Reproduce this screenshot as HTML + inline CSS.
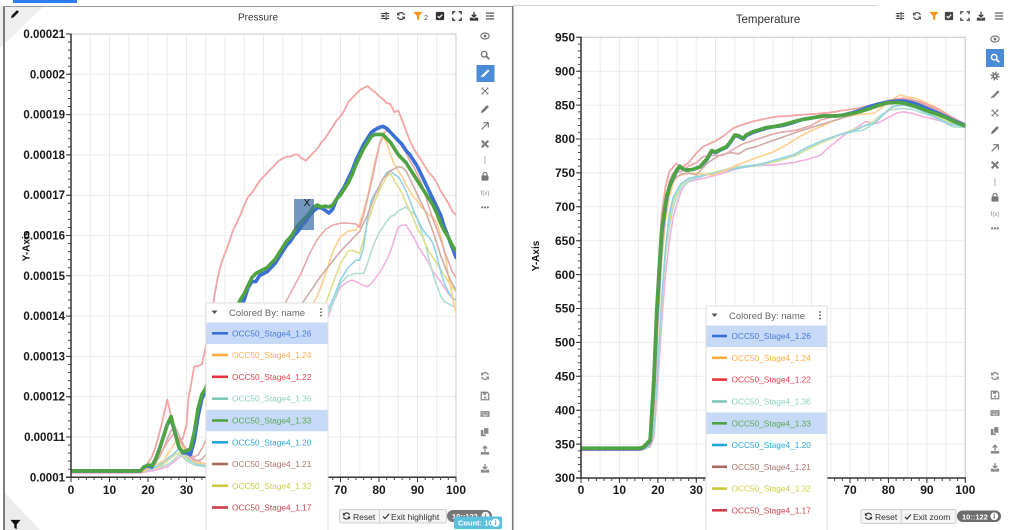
<!DOCTYPE html>
<html><head><meta charset="utf-8"><style>
html,body{margin:0;padding:0;background:#fff;}
svg{display:block;}
</style></head><body>
<svg width="1024" height="530" viewBox="0 0 1024 530" xmlns="http://www.w3.org/2000/svg" font-family="'Liberation Sans', Arial, sans-serif">
<defs>
<symbol id="i-sliders" viewBox="0 0 12 12"><g stroke="currentColor" stroke-width="1.2"><line x1="1" y1="3" x2="11" y2="3"/><line x1="1" y1="6" x2="11" y2="6"/><line x1="1" y1="9" x2="11" y2="9"/></g><g fill="currentColor"><rect x="6.5" y="1.5" width="2" height="3"/><rect x="2.5" y="4.5" width="2" height="3"/><rect x="6.5" y="7.5" width="2" height="3"/></g></symbol>
<symbol id="i-refresh" viewBox="0 0 12 12"><path d="M10 5A4 4 0 0 0 2.6 4M2 7A4 4 0 0 0 9.4 8" fill="none" stroke="currentColor" stroke-width="1.5"/><path d="M1.2 1.5v3.8h3.8zM10.8 10.5V6.7H7z" fill="currentColor"/></symbol>
<symbol id="i-funnel" viewBox="0 0 12 12"><path d="M0.5 1h11l-4.2 5v5.2l-2.6-1.6V6z" fill="currentColor"/></symbol>
<symbol id="i-check" viewBox="0 0 12 12"><rect x="1" y="1" width="10" height="10" rx="1.5" fill="currentColor"/><path d="M3.3 6.2l1.8 1.8 3.6-3.6" stroke="#fff" stroke-width="1.4" fill="none"/></symbol>
<symbol id="i-full" viewBox="0 0 12 12"><path d="M1 4V1h3M8 1h3v3M11 8v3H8M4 11H1V8" fill="none" stroke="currentColor" stroke-width="1.6"/></symbol>
<symbol id="i-dl" viewBox="0 0 12 12"><path d="M6 1v6M3.3 4.5L6 7.2l2.7-2.7" stroke="currentColor" stroke-width="1.6" fill="none"/><path d="M1 8h3l2 1.5L8 8h3v3.5H1z" fill="currentColor"/></symbol>
<symbol id="i-menu" viewBox="0 0 12 12"><g stroke="currentColor" stroke-width="1.4"><line x1="1" y1="2.5" x2="11" y2="2.5"/><line x1="1" y1="6" x2="11" y2="6"/><line x1="1" y1="9.5" x2="11" y2="9.5"/></g></symbol>
<symbol id="i-eye" viewBox="0 0 12 12"><ellipse cx="6" cy="6" rx="5" ry="3.6" fill="none" stroke="currentColor" stroke-width="1.4"/><circle cx="6" cy="6" r="1.7" fill="currentColor"/></symbol>
<symbol id="i-search" viewBox="0 0 12 12"><circle cx="5" cy="5" r="3.3" fill="none" stroke="currentColor" stroke-width="1.7"/><path d="M7.4 7.4L11 11" stroke="currentColor" stroke-width="2.2"/></symbol>
<symbol id="i-pen" viewBox="0 0 12 12"><path d="M3 9L9.5 2.5l1 1L4 10z" fill="none" stroke="currentColor" stroke-width="1.3"/><path d="M3 9l-1.8 1.8" stroke="currentColor" stroke-width="1.2"/></symbol>
<symbol id="i-move" viewBox="0 0 12 12"><path d="M3 3l6 6M9 3l-6 6" stroke="currentColor" stroke-width="1.4"/><path d="M1 1h3.5L1 4.5zM11 1v3.5L7.5 1zM1 11V7.5L4.5 11zM11 11H7.5L11 7.5z" fill="currentColor"/></symbol>
<symbol id="i-pencil" viewBox="0 0 12 12"><path d="M1.2 10.8l0.8-3 6.5-6.5 2.2 2.2L4.2 10z" fill="currentColor"/></symbol>
<symbol id="i-arrow" viewBox="0 0 12 12"><path d="M2 10L9.5 2.5M4 2h6v6" fill="none" stroke="currentColor" stroke-width="1.4"/></symbol>
<symbol id="i-tools" viewBox="0 0 12 12"><path d="M2 2l8 8M10 2l-8 8" stroke="currentColor" stroke-width="2.4"/></symbol>
<symbol id="i-lock" viewBox="0 0 12 12"><rect x="1.8" y="5.3" width="8.4" height="6.2" rx="1" fill="currentColor"/><path d="M3.7 5.5V4a2.3 2.3 0 0 1 4.6 0v1.5" fill="none" stroke="currentColor" stroke-width="1.4"/></symbol>
<symbol id="i-save" viewBox="0 0 12 12"><path d="M1.5 1.5h7l2 2v7h-9z" fill="none" stroke="currentColor" stroke-width="1.5"/><rect x="3.5" y="1.5" width="4" height="3" fill="currentColor"/><circle cx="6" cy="7.8" r="1.3" fill="currentColor"/></symbol>
<symbol id="i-kbd" viewBox="0 0 12 12"><rect x="0.5" y="2.5" width="11" height="7" rx="1" fill="currentColor"/><g stroke="#fff" stroke-width="0.8" stroke-dasharray="1 0.8"><line x1="1.6" y1="4.5" x2="10.4" y2="4.5"/><line x1="1.6" y1="6.3" x2="10.4" y2="6.3"/></g><line x1="3" y1="8.2" x2="9" y2="8.2" stroke="#fff" stroke-width="0.8"/></symbol>
<symbol id="i-copy" viewBox="0 0 12 12"><rect x="1" y="3.5" width="6" height="7.5" fill="currentColor"/><rect x="4.5" y="1" width="6" height="7.5" fill="currentColor" stroke="#fff" stroke-width="0.8"/></symbol>
<symbol id="i-up" viewBox="0 0 12 12"><path d="M6 8V1.5M3.3 4.2L6 1.5l2.7 2.7" stroke="currentColor" stroke-width="1.6" fill="none"/><path d="M1 8.5h10v3H1z" fill="currentColor"/></symbol>
<symbol id="i-gear" viewBox="0 0 12 12"><circle cx="6" cy="6" r="4.4" fill="none" stroke="currentColor" stroke-width="2" stroke-dasharray="1.7 1.75"/><circle cx="6" cy="6" r="3.4" fill="currentColor"/><circle cx="6" cy="6" r="1.2" fill="#fff"/></symbol>
<symbol id="i-info" viewBox="0 0 12 12"><circle cx="6" cy="6" r="5.5" fill="#fff"/><rect x="5.1" y="5" width="1.8" height="4.2" fill="currentColor"/><circle cx="6" cy="3.3" r="1" fill="currentColor"/></symbol>
<clipPath id="clipL"><rect x="71" y="34" width="385" height="443"/></clipPath>
<clipPath id="clipR"><rect x="581" y="37.3" width="384.3" height="440.7"/></clipPath>
</defs>

<rect x="0" y="0" width="1024" height="530" fill="#fff"/>

<!-- panel chrome -->
<polygon points="0,6 44,6 0,48" fill="#efefef"/>
<polygon points="4,492 4,530 40,530" fill="#ececec"/>
<rect x="13" y="0" width="64" height="3" fill="#2f7ef0"/>
<line x1="4" y1="6" x2="4" y2="530" stroke="#555" stroke-width="1.5"/>
<line x1="4" y1="6.5" x2="512" y2="6.5" stroke="#999" stroke-width="1"/>
<line x1="512.7" y1="6" x2="512.7" y2="530" stroke="#777" stroke-width="1.6"/>
<line x1="513" y1="5.5" x2="877" y2="5.5" stroke="#d4d4d4" stroke-width="1"/>
<use href="#i-pencil" x="10" y="9" width="10" height="10" color="#111"/>
<use href="#i-funnel" x="10" y="519" width="11" height="11" color="#111"/>

<!-- ================= LEFT CHART ================= -->
<text x="258" y="20.5" font-size="10" fill="#333" text-anchor="middle">Pressure</text>
<use href="#i-sliders" x="380" y="11" width="10" height="10" color="#444"/>
<use href="#i-refresh" x="396" y="11" width="10" height="10" color="#444"/>
<use href="#i-funnel" x="413" y="11" width="10" height="10" color="#f7941d"/>
<text x="424" y="20" font-size="7.5" fill="#555">2</text>
<use href="#i-check" x="435" y="11" width="10" height="10" color="#333"/>
<use href="#i-full" x="452" y="11" width="10" height="10" color="#333"/>
<use href="#i-dl" x="469" y="11" width="10" height="10" color="#333"/>
<use href="#i-menu" x="485" y="11" width="10" height="10" color="#444"/>

<!-- grid -->
<line x1="70.5" y1="255.5" x2="456" y2="255.5" stroke="#ebebeb" stroke-width="443" stroke-dasharray="1 18.25"/>
<line x1="263.5" y1="33.5" x2="263.5" y2="478" stroke="#ebebeb" stroke-width="385" stroke-dasharray="1 39.3"/>
<rect x="71" y="34" width="385" height="443" fill="none" stroke="#c8c8c8" stroke-width="1"/>

<!-- curves left -->
<g clip-path="url(#clipL)">
<g transform="matrix(3.85 0 0 -40.3 71 477)" fill="none" stroke-linejoin="round" stroke-linecap="round">
<polyline vector-effect="non-scaling-stroke" stroke="#f2b0df" stroke-width="1.6" points="0,0.1 18,0.1 19,0.12 21,0.15 23,0.2 25,0.25 27,0.4 29,0.55 30,0.67 31,0.6 32,0.45 34,0.35 35,0.3 40,0.6 45,1.0 50,1.5 55,2.0 60,2.5 65,3.5 68,4.3 70,4.72 72,4.85 73,4.89 75,4.8 77,4.72 78,4.8 80,5.05 82,5.38 83,5.6 84,5.9 85,6.2 86,6.25 87,6.25 88,6.1 89,5.95 90,5.75 91,5.6 92,5.45 93,5.3 94,5.1 95,4.97 96,4.85 97,4.7 98,4.55 99,4.45 100,4.39"/>
<polyline vector-effect="non-scaling-stroke" stroke="#b2ddd0" stroke-width="1.6" points="0,0.12 18,0.12 19,0.15 21,0.2 23,0.25 25,0.3 27,0.45 28,0.55 29,0.5 30,0.4 32,0.3 35,0.25 40,0.6 45,1.1 50,1.7 55,2.2 60,2.8 65,3.7 68,4.3 70,4.8 72,5.0 74,5.05 76,5.05 77,5.3 78,5.6 79,5.85 80,6.05 81,6.2 82,6.35 83,6.46 84,6.5 85,6.6 86,6.65 87,6.7 88,6.6 89,6.55 90,6.4 91,6.1 92,5.8 93,5.4 94,5.05 95,4.75 96,4.5 97,4.35 98,4.3 99,4.25 100,4.22"/>
<polyline vector-effect="non-scaling-stroke" stroke="#dede8e" stroke-width="1.6" points="0,0.12 18,0.12 19,0.15 21,0.2 23,0.25 25,0.4 27,0.55 28,0.6 29,0.55 30,0.45 32,0.35 35,0.3 40,0.7 45,1.3 50,1.9 55,2.4 60,3.0 65,4.0 68,4.8 70,5.3 72,5.6 73,5.63 75,5.55 76,5.9 77,6.3 78,6.6 80,7.1 82,7.45 83,7.53 84,7.35 85,7.2 86,7.04 87,6.8 88,6.6 89,6.4 90,6.15 91,6.0 92,5.8 93,5.6 94,5.45 95,5.3 96,5.15 97,5.0 98,4.85 99,4.7 100,4.6"/>
<polyline vector-effect="non-scaling-stroke" stroke="#92d2e8" stroke-width="1.6" points="0,0.12 18,0.12 19,0.15 21,0.2 23,0.3 25,0.45 27,0.6 28,0.7 29,0.65 30,0.5 31,0.4 33,0.3 35,0.28 40,0.6 45,1.2 50,1.8 55,2.3 60,2.8 65,3.8 68,4.4 70,4.89 72,5.2 74,5.38 75,5.38 76,5.7 77,6.4 78,6.87 79,7.05 80,7.2 81,7.4 82,7.55 83,7.6 84,7.5 85,7.45 86,7.3 87,7.1 88,6.87 89,6.6 90,6.4 91,6.2 92,6.05 93,5.95 94,5.8 95,5.5 96,5.1 97,4.8 98,4.6 99,4.45 100,4.39"/>
<polyline vector-effect="non-scaling-stroke" stroke="#ffcf8c" stroke-width="1.6" points="0,0.12 18,0.12 19,0.15 20,0.2 22,0.3 24,0.4 25,0.55 26,0.7 27,0.85 28,0.92 29,0.75 30,0.55 31,0.45 32,0.38 33,0.35 35,0.35 40,0.8 45,1.4 50,2.0 55,2.9 60,3.8 64,4.5 66,5.0 68,5.6 70,5.96 72,6.1 74,6.13 75,6.3 76,6.6 77,6.95 78,7.4 79,7.85 80,8.2 81,8.44 82,8.3 83,8.0 84,7.75 85,7.6 86,7.45 87,7.25 88,7.1 89,6.95 90,6.85 91,6.7 92,6.6 93,6.5 94,6.45 95,6.3 96,6.0 97,5.6 98,5.0 99,4.5 100,4.06"/>
<polyline vector-effect="non-scaling-stroke" stroke="#cfaba4" stroke-width="1.6" points="0,0.12 18,0.12 19,0.2 21,0.25 22,0.35 23,0.5 24,0.7 25,0.95 26,1.15 27,1.25 28,1.05 29,0.85 30,0.65 31,0.5 32,0.42 33,0.4 34,0.45 35,0.55 40,1.2 45,2.0 50,2.8 55,3.5 60,4.3 65,5.0 70,5.6 73,5.9 75,6.1 77,6.5 79,7.0 81,7.4 83,7.6 85,7.7 86,7.68 87,7.6 88,7.4 89,7.2 90,7.0 91,6.8 92,6.6 93,6.35 94,6.1 95,5.8 96,5.5 97,5.25 98,5.0 99,4.8 100,4.64"/>
<polyline vector-effect="non-scaling-stroke" stroke="#e6a8aa" stroke-width="1.6" points="0,0.12 18,0.12 19,0.2 20,0.25 21,0.3 22,0.4 23,0.55 24,0.7 25,0.85 26,1.0 27,1.1 28,0.95 29,0.8 30,0.7 31,0.55 32,0.5 33,0.55 34,0.7 35,0.9 40,1.9 45,2.8 50,3.6 55,4.2 57,4.56 60,5.1 62,5.55 64,5.9 66,6.13 68,6.25 70,6.3 72,6.3 74,6.28 75,6.2 76,6.5 77,6.9 78,7.3 79,7.75 80,8.2 81,8.5 82,8.6 83,8.55 84,8.45 85,8.35 86,8.2 87,8.05 88,7.85 89,7.7 90,7.5 91,7.3 92,7.0 93,6.7 94,6.4 95,6.15 96,5.9 97,5.6 98,5.35 99,5.1 100,4.95"/>
<polyline vector-effect="non-scaling-stroke" stroke="#f3a4a4" stroke-width="1.8" points="0,0.12 18,0.12 19,0.2 20,0.35 21,0.5 22,0.75 23,1.1 24,1.5 25,1.92 26,1.5 27,1.05 28,0.85 29,0.95 30,1.3 30.5,1.95 31,2.2 32,2.74 33,2.75 34,2.8 35,3.23 36,3.8 37,4.35 38,4.9 39,5.3 40,5.55 41,5.8 42,6.1 43,6.3 44,6.5 45,6.75 46,6.95 47,7.05 48,7.2 49,7.35 50,7.45 51,7.55 52,7.65 53,7.75 54,7.85 55,7.9 56,7.95 57,7.95 58,8.0 59,8.0 60,7.9 61,7.85 62,7.95 63,8.05 64,8.15 65,8.3 66,8.4 67,8.55 68,8.7 69,8.85 70,8.95 71,9.1 72,9.3 73,9.4 74,9.5 75,9.6 76,9.65 77,9.7 78,9.62 79,9.55 80,9.45 81,9.38 82,9.28 83,9.25 84,9.05 85,9.1 86,8.85 87,8.6 88,8.35 89,8.15 90,8.0 91,7.85 92,7.7 93,7.55 94,7.45 95,7.3 96,7.1 97,6.95 98,6.8 99,6.6 100,6.5"/>
<polyline vector-effect="non-scaling-stroke" stroke="#3a6fd8" stroke-width="3.6" points="0,0.15 18,0.15 19,0.25 20,0.28 21,0.25 22,0.45 23,0.7 24,1.0 25,1.3 26,1.45 27,1.1 28,0.75 29,0.6 30,0.6 31,0.55 32,0.9 33,1.5 34,1.95 35,2.15 36,2.4 37,2.7 38,3.0 39,3.3 40,3.55 41,3.75 42,3.95 43,4.05 44,4.2 45,4.4 46,4.7 47,4.85 48,4.85 49,5.0 50,5.05 51,5.1 52,5.2 53,5.3 54,5.45 55,5.6 56,5.75 57,5.85 58,6.0 59,6.1 60,6.25 61,6.35 62,6.5 63,6.6 64,6.68 65,6.68 66,6.62 67,6.55 68,6.65 69,6.9 70,7.05 71,7.2 72,7.4 73,7.6 74,7.85 75,8.05 76,8.25 77,8.4 78,8.55 79,8.62 80,8.67 81,8.7 82,8.65 83,8.55 84,8.45 85,8.35 86,8.25 87,8.1 88,8.0 89,7.85 90,7.7 91,7.5 92,7.3 93,7.1 94,6.9 95,6.7 96,6.5 97,6.2 98,5.95 99,5.7 100,5.45"/>
<polyline vector-effect="non-scaling-stroke" stroke="#4fa343" stroke-width="3.6" points="0,0.15 18,0.15 19,0.25 20,0.3 21,0.28 22,0.45 23,0.7 24,1.0 25,1.3 26,1.5 27,1.1 28,0.75 29,0.62 30,0.65 31,0.7 32,1.1 33,1.7 34,2.05 35,2.2 36,2.5 37,2.8 38,3.1 39,3.4 40,3.65 41,3.85 42,4.05 43,4.2 44,4.4 45,4.55 46,4.75 47,4.95 48,5.05 49,5.1 50,5.15 51,5.2 52,5.3 53,5.4 54,5.55 55,5.7 56,5.85 57,5.95 58,6.1 59,6.25 60,6.35 61,6.45 62,6.55 63,6.7 64,6.75 65,6.7 66,6.72 67,6.7 68,6.75 69,6.9 70,7.0 71,7.15 72,7.3 73,7.5 74,7.75 75,7.95 76,8.15 77,8.3 78,8.45 79,8.5 80,8.5 81,8.5 82,8.4 83,8.3 84,8.15 85,8.0 86,7.9 87,7.8 88,7.65 89,7.5 90,7.35 91,7.2 92,7.05 93,6.9 94,6.75 95,6.55 96,6.3 97,6.1 98,5.95 99,5.75 100,5.6"/>
</g>
</g>

<!-- box selection -->
<rect x="294" y="199" width="20" height="31" fill="#3f6fa8" fill-opacity="0.72"/>
<text x="307" y="206" font-size="10" fill="#111" text-anchor="middle">X</text>

<!-- axes left -->
<line x1="71" y1="33.5" x2="71" y2="478" stroke="#333" stroke-width="1.5"/>
<line x1="66" y1="477.3" x2="456.5" y2="477.3" stroke="#333" stroke-width="1.5"/>
<line x1="69.5" y1="33.5" x2="69.5" y2="478" stroke="#444" stroke-width="3" stroke-dasharray="1 7.06"/>
<line x1="68.5" y1="33.5" x2="68.5" y2="478" stroke="#333" stroke-width="5" stroke-dasharray="1 39.3"/>
<line x1="70.5" y1="478.5" x2="457" y2="478.5" stroke="#444" stroke-width="3" stroke-dasharray="1 6.7"/>
<line x1="70.5" y1="479.5" x2="457" y2="479.5" stroke="#333" stroke-width="5" stroke-dasharray="1 37.5"/>

<g font-size="11.5" font-weight="bold" fill="#1a1a1a" text-anchor="end">
<text x="65" y="38">0.00021</text>
<text x="65" y="78.3">0.0002</text>
<text x="65" y="118.6">0.00019</text>
<text x="65" y="158.9">0.00018</text>
<text x="65" y="199.2">0.00017</text>
<text x="65" y="239.5">0.00016</text>
<text x="65" y="279.8">0.00015</text>
<text x="65" y="320.1">0.00014</text>
<text x="65" y="360.4">0.00013</text>
<text x="65" y="400.7">0.00012</text>
<text x="65" y="441">0.00011</text>
<text x="65" y="481.3">0.0001</text>
</g>
<g font-size="12" font-weight="bold" fill="#1a1a1a" text-anchor="middle">
<text x="71" y="494">0</text><text x="109.5" y="494">10</text><text x="148" y="494">20</text><text x="186.5" y="494">30</text><text x="225" y="494">40</text><text x="263.5" y="494">50</text><text x="302" y="494">60</text><text x="340.5" y="494">70</text><text x="379" y="494">80</text><text x="417.5" y="494">90</text><text x="456" y="494">100</text>
</g>
<text transform="translate(29.5,246) rotate(-90)" font-size="10" font-weight="bold" fill="#111" text-anchor="middle">Y-Axis</text>

<!-- left vertical toolbar -->
<rect x="476.5" y="65" width="18" height="17" fill="#4a8ad6"/>
<use href="#i-eye" x="480" y="31" width="10" height="10" color="#777"/>
<use href="#i-search" x="480" y="50" width="10" height="10" color="#777"/>
<use href="#i-pen" x="480" y="68" width="10" height="10" color="#fff"/>
<use href="#i-move" x="481" y="87" width="8" height="8" color="#777"/>
<use href="#i-pencil" x="480" y="104" width="10" height="10" color="#777"/>
<use href="#i-arrow" x="480" y="121" width="10" height="10" color="#777"/>
<use href="#i-tools" x="480" y="139" width="10" height="10" color="#777"/>
<line x1="485" y1="156" x2="485" y2="164" stroke="#999" stroke-width="0.8"/>
<use href="#i-lock" x="480" y="171" width="10" height="10" color="#777"/>
<text x="485" y="195" font-size="6" fill="#888" text-anchor="middle">f(x)</text>
<text x="485" y="210" font-size="8" fill="#777" text-anchor="middle">•••</text>
<use href="#i-refresh" x="480" y="371" width="10" height="10" color="#888"/>
<use href="#i-save" x="480" y="391" width="10" height="10" color="#888"/>
<use href="#i-kbd" x="480" y="409" width="10" height="10" color="#888"/>
<use href="#i-copy" x="480" y="427" width="10" height="10" color="#888"/>
<use href="#i-up" x="480" y="445" width="10" height="10" color="#888"/>
<use href="#i-dl" x="480" y="463" width="10" height="10" color="#888"/>

<!-- left legend -->
<rect x="206" y="303" width="122" height="230" fill="#fff" stroke="#dcdcdc" stroke-width="1"/>
<polygon points="211.5,310.5 217.5,310.5 214.5,314" fill="#555"/>
<text x="229" y="316" font-size="9.5" fill="#666">Colored By: name</text>
<circle cx="321" cy="309" r="0.9" fill="#555"/><circle cx="321" cy="312.3" r="0.9" fill="#555"/><circle cx="321" cy="315.6" r="0.9" fill="#555"/>
<rect x="206.5" y="322.5" width="121" height="21.5" fill="#c6daf8"/>
<rect x="206.5" y="409.8" width="121" height="21.5" fill="#c6daf8"/>
<g stroke-width="2.6">
<line x1="212" y1="333.3" x2="228" y2="333.3" stroke="#3a6fd8"/>
<line x1="212" y1="355" x2="228" y2="355" stroke="#ffaa3c"/>
<line x1="212" y1="376.8" x2="228" y2="376.8" stroke="#e8343c"/>
<line x1="212" y1="398.7" x2="228" y2="398.7" stroke="#7ec8b8"/>
<line x1="212" y1="420.5" x2="228" y2="420.5" stroke="#4fa343"/>
<line x1="212" y1="442.3" x2="228" y2="442.3" stroke="#1ea7d8"/>
<line x1="212" y1="464" x2="228" y2="464" stroke="#a86a5e"/>
<line x1="212" y1="485.8" x2="228" y2="485.8" stroke="#c9c93a"/>
<line x1="212" y1="507.5" x2="228" y2="507.5" stroke="#d03a48"/>
</g>
<g font-size="8.3">
<text x="232" y="336.3" fill="#4a78d8">OCC50_Stage4_1.26</text>
<text x="232" y="358" fill="#ffac45">OCC50_Stage4_1.24</text>
<text x="232" y="379.8" fill="#e8404c">OCC50_Stage4_1.22</text>
<text x="232" y="401.7" fill="#8ccfc0">OCC50_Stage4_1.36</text>
<text x="232" y="423.5" fill="#5aa852">OCC50_Stage4_1.33</text>
<text x="232" y="445.3" fill="#28a8d8">OCC50_Stage4_1.20</text>
<text x="232" y="467" fill="#a8726a">OCC50_Stage4_1.21</text>
<text x="232" y="488.8" fill="#cccc48">OCC50_Stage4_1.32</text>
<text x="232" y="510.5" fill="#cc4352">OCC50_Stage4_1.17</text>
</g>

<!-- left bottom buttons -->
<rect x="339.5" y="509.5" width="107" height="13.5" rx="2" fill="#f4f4f4" stroke="#cfcfcf"/>
<line x1="379.5" y1="509.5" x2="379.5" y2="523" stroke="#cfcfcf"/>
<use href="#i-refresh" x="342" y="511.5" width="9" height="9" color="#333"/>
<text x="353" y="519.8" font-size="8.5" fill="#333">Reset</text>
<path d="M383 516.5l2 2 4-4.5" stroke="#333" stroke-width="1.2" fill="none"/>
<text x="391" y="519.8" font-size="8.5" fill="#333">Exit highlight</text>
<rect x="447" y="510" width="45" height="12" rx="6" fill="#777"/>
<text x="452" y="519" font-size="7.5" font-weight="bold" fill="#fff">10::122</text>
<use href="#i-info" x="481" y="511.5" width="9" height="9" color="#777"/>
<rect x="454" y="516.5" width="48" height="12.5" rx="2" fill="#5bc0de"/>
<text x="458" y="525.6" font-size="7.5" font-weight="bold" fill="#fff">Count: 10</text>
<use href="#i-info" x="491" y="518.2" width="9" height="9" color="#5bc0de"/>

<!-- ================= RIGHT CHART ================= -->
<text x="768" y="23" font-size="11.5" fill="#333" text-anchor="middle">Temperature</text>
<use href="#i-sliders" x="895" y="11" width="10" height="10" color="#555"/>
<use href="#i-refresh" x="912" y="11" width="10" height="10" color="#555"/>
<use href="#i-funnel" x="929" y="11" width="10" height="10" color="#f7941d"/>
<use href="#i-check" x="944" y="11" width="10" height="10" color="#444"/>
<use href="#i-full" x="960" y="11" width="10" height="10" color="#444"/>
<use href="#i-dl" x="976" y="11" width="10" height="10" color="#444"/>
<use href="#i-menu" x="994" y="11" width="10" height="10" color="#555"/>

<line x1="580.5" y1="257.65" x2="965.3" y2="257.65" stroke="#ebebeb" stroke-width="440.7" stroke-dasharray="1 18.215"/>
<line x1="773" y1="36.8" x2="773" y2="478.5" stroke="#ebebeb" stroke-width="384.3" stroke-dasharray="1 32.9"/>
<rect x="581" y="37.3" width="384.3" height="440.7" fill="none" stroke="#c8c8c8" stroke-width="1"/>

<g clip-path="url(#clipR)">
<g transform="matrix(3.843 0 0 -0.678 581 681.4)" fill="none" stroke-linejoin="round" stroke-linecap="round">
<polyline vector-effect="non-scaling-stroke" stroke="#f2b0df" stroke-width="1.6" points="0,341 15,341 16,342 17,344 18,346 19,360 20,440 21,530 22,600 23,650 24,685 25,705 26,722 27,732 28,737 30,740 32,742 36,748 40,755 43,759 47,761 51,762 55,765 59,770 62.3,776 65,790 69,808 72,818 74,825.5 77,823 80.4,833 82,838 83.8,840 86,838 89,833 92,829 95,824 100,818"/>
<polyline vector-effect="non-scaling-stroke" stroke="#b2ddd0" stroke-width="1.6" points="0,341 15,341 16,342 17,344 18,348 19,380 20,470 21,560 22,630 23,670 24,700 25,715 26,728 28,738 30,742 33,748 35,751 38.8,757 42,760 45.7,762 48,765 50.9,767 53,771 56.1,776 60,788 63,796 66,803 68.2,808 71,811 73.4,813 75,818 76.9,830 78,835 80.4,843 83.8,845 86,844 89,838 92,832 95,823 96.8,818 100,817"/>
<polyline vector-effect="non-scaling-stroke" stroke="#d2e29a" stroke-width="1.6" points="0,341 15,341 16,342 17,344 18,348 19,370 20,460 21,555 22,630 23,680 24,708 26,732 28,741 30,745 34,750 38,755 42,758 46,761 50,766 54,772 58,782 62,793 66,803 70,812 74,820 77,828 80,842 82,850 84,852 86,849 89,842 92,835 95,827 100,818"/>
<polyline vector-effect="non-scaling-stroke" stroke="#92d2e8" stroke-width="1.6" points="0,341 15,341 16,342 17,344 18,348 19,375 20,465 21,565 22,640 23,690 24,714 26,734 28,742 31,745 35,750 39,755 43,759 47,763 51,770 55,776 59,788 63,798 67,806 71,812 74,820 76,822 77,826 79,838 81,848 84,850 87,846 90,838 93,830 96,822 100,818"/>
<polyline vector-effect="non-scaling-stroke" stroke="#ffcf8c" stroke-width="1.6" points="0,341 15,341 16,342 17,346 18,350 19,400 20,520 21,620 22,680 23,715 24,735 25,745 27,748 30,750 32,748 34.6,747 37,752 40,760 43.2,767 46,773 50.1,781 53,790 56.2,801 59,810 62.3,818 65,825 69.1,833 72,836 76.2,838 78,845 80,855 83,865 85,862 87.3,860 90,853 93,845 96,834 100,820"/>
<polyline vector-effect="non-scaling-stroke" stroke="#cfaba4" stroke-width="1.6" points="0,341 15,341 16,342 17,346 18,350 19,410 20,530 21,630 22,690 23,725 24,740 26,748 28,750 30,747 33,765 36,776 39,780 41,778 43,785 45.7,789 49,796 52.6,803 56,810 60,817 64,824 68,831 72,838 76,845 80,852 82,856 84,857 86,856 88,853 90,850 93,844 96,834 100,822"/>
<polyline vector-effect="non-scaling-stroke" stroke="#e6a8aa" stroke-width="1.6" points="0,341 15,341 16,342 17,347 18,352 19,440 20,570 21,660 22,710 23,738 24,750 26,752 28,760 30,765 31.8,774 34,776 37,776 40,786 42.2,793 46,800 49.2,806 52,810 56.1,813 60,820 62.3,828 66,833 70,838 74,843 78,850 81,856 84,858 87,855 90,849 93,842 96,833 100,822"/>
<polyline vector-effect="non-scaling-stroke" stroke="#f3a4a4" stroke-width="1.8" points="0,341 15,341 16,342 17,350 18,360 19,480 20,600 21,690 22,730 23,752 24.8,764 26,757 28,765 30,779 31.8,789 33,792 35.3,798 37,804 39.6,816 42,821 44.8,826 48,830 50.9,833 54,834 57.8,836 61,837 64.8,839 68,842 71.7,845 74,848 76.9,852 80.4,857.5 83.8,860 86,858 88.2,855 90,851 92.5,845 95,837 97.5,829 100,821"/>
<polyline vector-effect="non-scaling-stroke" stroke="#3a6fd8" stroke-width="3.6" points="0,343 15,343 16,344 17,349 18,355 19,445 19.7,540 20.5,615 21,662 22,703 22.3,713 23,729 24,743 25,754 25.7,759 26.5,756 27.4,754 29,755 31,759 32,765 32.8,770 34,782 35,780 36,783 37.9,788 39,796 40,805 41,804 42.2,800 43,805 44.8,810 46,812 48.3,816 50,818 52.6,820 55,824 57.8,829 60,831 63,834 66.5,834 68,835 70.8,839 73,843 75.2,848 77,851 79.5,854 82,856 84,856 86.5,853 88,850 90.9,843 93,838 95.2,832 97,827 100,820"/>
<polyline vector-effect="non-scaling-stroke" stroke="#4fa343" stroke-width="3.6" points="0,344 15,344 16,345 17,350 18,356 19,450 19.7,548 20.5,620 21,666 22,705 22.3,715 23,730 24,744 25,755 25.7,760 26.5,756 27.4,754 29,755 31,759 32,766 32.8,771 34,783 35,781 36,784 37.9,789 39,797 40,806 41,805 42.2,801 43,806 44.8,811 46,813 48.3,817 50,818 52.6,821 55,825 57.8,829 60,831 63,834 66.5,834 68,835 70.8,838 73,841 75.2,845 77,849 79.5,853 82,854 84,853 86.5,849 88,846 90.9,840 93,836 95.2,831 97,826 100,819"/>
</g>
</g>

<!-- axes right -->
<line x1="581" y1="36.8" x2="581" y2="479" stroke="#333" stroke-width="1.5"/>
<line x1="576" y1="478" x2="965.8" y2="478" stroke="#333" stroke-width="1.5"/>
<line x1="579.5" y1="36.8" x2="579.5" y2="479" stroke="#444" stroke-width="3" stroke-dasharray="1 5.78"/>
<line x1="578.5" y1="36.8" x2="578.5" y2="479" stroke="#333" stroke-width="5" stroke-dasharray="1 32.9"/>
<line x1="580.5" y1="479.5" x2="966" y2="479.5" stroke="#444" stroke-width="3" stroke-dasharray="1 6.686"/>
<line x1="580.5" y1="480.5" x2="966" y2="480.5" stroke="#333" stroke-width="5" stroke-dasharray="1 37.43"/>

<g font-size="12" font-weight="bold" fill="#1a1a1a" text-anchor="end">
<text x="575" y="41.5">950</text>
<text x="575" y="75.4">900</text>
<text x="575" y="109.3">850</text>
<text x="575" y="143.2">800</text>
<text x="575" y="177.1">750</text>
<text x="575" y="211">700</text>
<text x="575" y="244.9">650</text>
<text x="575" y="278.8">600</text>
<text x="575" y="312.7">550</text>
<text x="575" y="346.6">500</text>
<text x="575" y="380.5">450</text>
<text x="575" y="414.4">400</text>
<text x="575" y="448.3">350</text>
<text x="575" y="482.2">300</text>
</g>
<g font-size="12" font-weight="bold" fill="#1a1a1a" text-anchor="middle">
<text x="581" y="494">0</text><text x="619.4" y="494">10</text><text x="657.9" y="494">20</text><text x="696.3" y="494">30</text><text x="734.7" y="494">40</text><text x="773.2" y="494">50</text><text x="811.6" y="494">60</text><text x="850" y="494">70</text><text x="888.4" y="494">80</text><text x="926.9" y="494">90</text><text x="965.3" y="494">100</text>
</g>
<text transform="translate(539,256) rotate(-90)" font-size="10" font-weight="bold" fill="#111" text-anchor="middle">Y-Axis</text>

<!-- right vertical toolbar -->
<rect x="986" y="49" width="18" height="18" fill="#4a8ad6"/>
<use href="#i-eye" x="990" y="34" width="10" height="10" color="#777"/>
<use href="#i-search" x="990" y="53" width="10" height="10" color="#fff"/>
<use href="#i-gear" x="990" y="71" width="10" height="10" color="#777"/>
<use href="#i-pen" x="990" y="89" width="10" height="10" color="#777"/>
<use href="#i-move" x="991" y="109" width="8" height="8" color="#777"/>
<use href="#i-pencil" x="990" y="125" width="10" height="10" color="#777"/>
<use href="#i-arrow" x="990" y="143" width="10" height="10" color="#777"/>
<use href="#i-tools" x="990" y="160" width="10" height="10" color="#777"/>
<line x1="995" y1="178" x2="995" y2="186" stroke="#999" stroke-width="0.8"/>
<use href="#i-lock" x="990" y="192" width="10" height="10" color="#777"/>
<text x="995" y="216" font-size="6" fill="#888" text-anchor="middle">f(x)</text>
<text x="995" y="231" font-size="8" fill="#777" text-anchor="middle">•••</text>
<use href="#i-refresh" x="990" y="371" width="10" height="10" color="#888"/>
<use href="#i-save" x="990" y="390" width="10" height="10" color="#888"/>
<use href="#i-kbd" x="990" y="408" width="10" height="10" color="#888"/>
<use href="#i-copy" x="990" y="426" width="10" height="10" color="#888"/>
<use href="#i-up" x="990" y="444" width="10" height="10" color="#888"/>
<use href="#i-dl" x="990" y="462" width="10" height="10" color="#888"/>

<!-- right legend -->
<rect x="706" y="306" width="121" height="230" fill="#fff" stroke="#dcdcdc" stroke-width="1"/>
<polygon points="711.5,313.5 717.5,313.5 714.5,317" fill="#555"/>
<text x="729" y="319" font-size="9.5" fill="#666">Colored By: name</text>
<circle cx="820" cy="312" r="0.9" fill="#555"/><circle cx="820" cy="315.3" r="0.9" fill="#555"/><circle cx="820" cy="318.6" r="0.9" fill="#555"/>
<rect x="706.5" y="325.5" width="120" height="21.5" fill="#c6daf8"/>
<rect x="706.5" y="412.5" width="120" height="21.5" fill="#c6daf8"/>
<g stroke-width="2.6">
<line x1="712" y1="336" x2="727" y2="336" stroke="#3a6fd8"/>
<line x1="712" y1="357.8" x2="727" y2="357.8" stroke="#ffaa3c"/>
<line x1="712" y1="379.6" x2="727" y2="379.6" stroke="#e8343c"/>
<line x1="712" y1="401.5" x2="727" y2="401.5" stroke="#7ec8b8"/>
<line x1="712" y1="423.3" x2="727" y2="423.3" stroke="#4fa343"/>
<line x1="712" y1="445" x2="727" y2="445" stroke="#1ea7d8"/>
<line x1="712" y1="466.8" x2="727" y2="466.8" stroke="#a86a5e"/>
<line x1="712" y1="488.6" x2="727" y2="488.6" stroke="#c9c93a"/>
<line x1="712" y1="510.3" x2="727" y2="510.3" stroke="#d03a48"/>
</g>
<g font-size="8.3">
<text x="731.5" y="339" fill="#4a78d8">OCC50_Stage4_1.26</text>
<text x="731.5" y="360.8" fill="#ffac45">OCC50_Stage4_1.24</text>
<text x="731.5" y="382.6" fill="#e8404c">OCC50_Stage4_1.22</text>
<text x="731.5" y="404.5" fill="#8ccfc0">OCC50_Stage4_1.36</text>
<text x="731.5" y="426.3" fill="#5aa852">OCC50_Stage4_1.33</text>
<text x="731.5" y="448" fill="#28a8d8">OCC50_Stage4_1.20</text>
<text x="731.5" y="469.8" fill="#a8726a">OCC50_Stage4_1.21</text>
<text x="731.5" y="491.6" fill="#cccc48">OCC50_Stage4_1.32</text>
<text x="731.5" y="513.3" fill="#cc4352">OCC50_Stage4_1.17</text>
</g>

<!-- right bottom buttons -->
<rect x="861" y="509.5" width="95" height="14" rx="2" fill="#f4f4f4" stroke="#cfcfcf"/>
<line x1="901.3" y1="509.5" x2="901.3" y2="523.5" stroke="#cfcfcf"/>
<use href="#i-refresh" x="864" y="511.8" width="9" height="9" color="#333"/>
<text x="875" y="520" font-size="8.5" fill="#333">Reset</text>
<path d="M905 517l2 2 4-4.5" stroke="#333" stroke-width="1.2" fill="none"/>
<text x="913" y="520" font-size="8.5" fill="#333">Exit zoom</text>
<rect x="957" y="510.5" width="44" height="11.5" rx="5.7" fill="#6b6b6b"/>
<text x="962" y="519.3" font-size="7.5" font-weight="bold" fill="#fff">10::122</text>
<use href="#i-info" x="990" y="512" width="8.5" height="8.5" color="#6b6b6b"/>
</svg>
</body></html>
